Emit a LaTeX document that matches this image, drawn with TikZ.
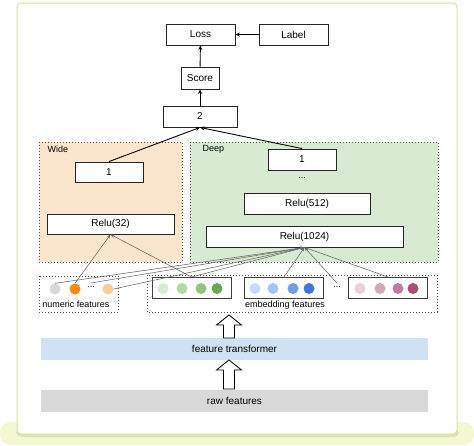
\documentclass[tikz,border=0pt]{standalone}
\usepackage{fontspec}
\setmainfont{Liberation Sans}
\usetikzlibrary{arrows.meta}
\definecolor{frameline}{HTML}{D3E39B}
\definecolor{glow}{HTML}{F3F8D3}
\definecolor{glowdark}{HTML}{DCE5B0}
\definecolor{wideorange}{HTML}{FCE5CD}
\definecolor{deepgreen}{HTML}{D9EAD3}
\definecolor{transblue}{HTML}{CFE2F3}
\definecolor{rawgray}{HTML}{D9D9D9}

\begin{document}
\begin{tikzpicture}[x=1pt,y=-1pt,
  box/.style={draw=black!85,fill=white,line width=0.9pt,minimum height=21pt,inner sep=0pt,font=\fontsize{10}{12}\selectfont},
  region/.style={draw=black!70,dotted,line width=1pt},
  feat/.style={circle,minimum size=11pt,inner sep=0pt},
  featbox/.style={draw=black!75,line width=1pt,minimum width=79pt,minimum height=21pt,inner sep=0pt},
  band/.style={minimum width=387pt,minimum height=22pt,inner sep=0pt,font=\fontsize{10}{12}\selectfont},
  flow/.style={-{Stealth[length=4.5pt,width=4pt]},line width=0.9pt},
  link/.style={-{Stealth[length=4pt,width=3pt]},draw=black!60,line width=0.55pt},
  small/.style={font=\fontsize{9}{11}\selectfont}]
\useasboundingbox (0,0) rectangle (474,445);
\fill[white] (0,0) rectangle (474,445);

% frame and its shadow
\fill[glow,rounded corners=10pt] (0,422) rectangle (474,445);
\fill[glowdark,rounded corners=5pt] (16,429) rectangle (459,437);
\draw[frameline,fill=white,line width=1pt,rounded corners=4pt] (17,3) rectangle (457,434);

% wide and deep parts
\draw[region,fill=wideorange] (39,142) rectangle (182,262);
\draw[region,fill=deepgreen] (190,142) rectangle (438,262);
\node[small,anchor=west] (widetitle) at (44,149) {Wide};
\node[small,anchor=west] (deeptitle) at (199,149) {Deep};

\node[box,minimum width=69pt] (loss) at (200.5,34.5) {Loss};
\node[box,minimum width=69pt] (label) at (293.5,34.5) {Label};
\node[box,minimum width=38pt,minimum height=22pt] (score) at (200,78) {Score};
\node[box,minimum width=74pt] (two) at (200,116.5) {2};

\node[box,minimum width=68pt,minimum height=20pt] (wideone) at (109,172) {1};
\node[box,minimum width=127pt,minimum height=20pt] (relusmall) at (110.5,224) {Relu(32)};

\node[box,minimum width=68pt] (deepone) at (302,159.5) {1};
\node[small] (deepdots) at (302,178) {...};
\node[box,minimum width=126pt] (relumid) at (307,203.5) {Relu(512)};
\node[box,minimum width=197pt] (relubig) at (304.5,236.5) {Relu(1024)};

% input features
\draw[region] (39,276) rectangle (118,312);
\draw[region] (147,275) rectangle (437,312);
\node[feat,fill=rawgray] (numa) at (55,289) {};
\node[feat,fill=orange!90!yellow] (numb) at (75,289) {};
\node[small] (numdots) at (91,287) {...};
\node[feat,fill=orange!40] (numc) at (108,289) {};
\node[small] (numlabel) at (76,304) {numeric features};

\node[featbox] (greenbox) at (191.5,288) {};
\node[featbox] (bluebox) at (284,288) {};
\node[small] (embdots) at (337,287) {...};
\node[featbox] (pinkbox) at (388,288) {};
\node[small] (emblabel) at (285,305) {embedding features};

\foreach \x/\c in {163/D9EAD3,182/B6D7A8,201/93C47D,217/6AA84F,
                   255/C9DAF8,273/A4C2F4,293/6D9EEB,309/3C78D8,
                   360/EAD1DC,380/D5A6BD,398/C27BA0,413/A64D79}{
  \definecolor{dotcol}{HTML}{\c}
  \fill[dotcol] (\x,288.5) circle (5.5);
}

% bands
\node[band,fill=transblue] (trans) at (234.5,349) {feature transformer};
\node[band,fill=rawgray] (raw) at (234.5,400.5) {raw features};
\foreach \ya/\yb in {315/338,360/389}
  \draw[fill=white,line width=0.8pt] (223.5,\yb) -- (223.5,\ya+10) -- (216.5,\ya+10)
    -- (229,\ya) -- (241.5,\ya+10) -- (234.5,\ya+10) -- (234.5,\yb) -- cycle;

% connectors
\draw[flow] (label) -- (loss);
\draw[flow] (score) -- (loss);
\draw[flow] (two) -- (score);
\draw[flow] (wideone.north) -- (two.south);
\draw[flow] (deepone.north) -- (two.south);

\draw[link] (numb.north) -- (relusmall.south);
\draw[link] (greenbox.north) -- (relusmall.south);
\foreach \src in {numa.north,numdots.north,numc.east,greenbox.north,bluebox.north,embdots.north,pinkbox.north}
  \draw[link] (\src) -- (relubig.south);
\end{tikzpicture}
\end{document}
